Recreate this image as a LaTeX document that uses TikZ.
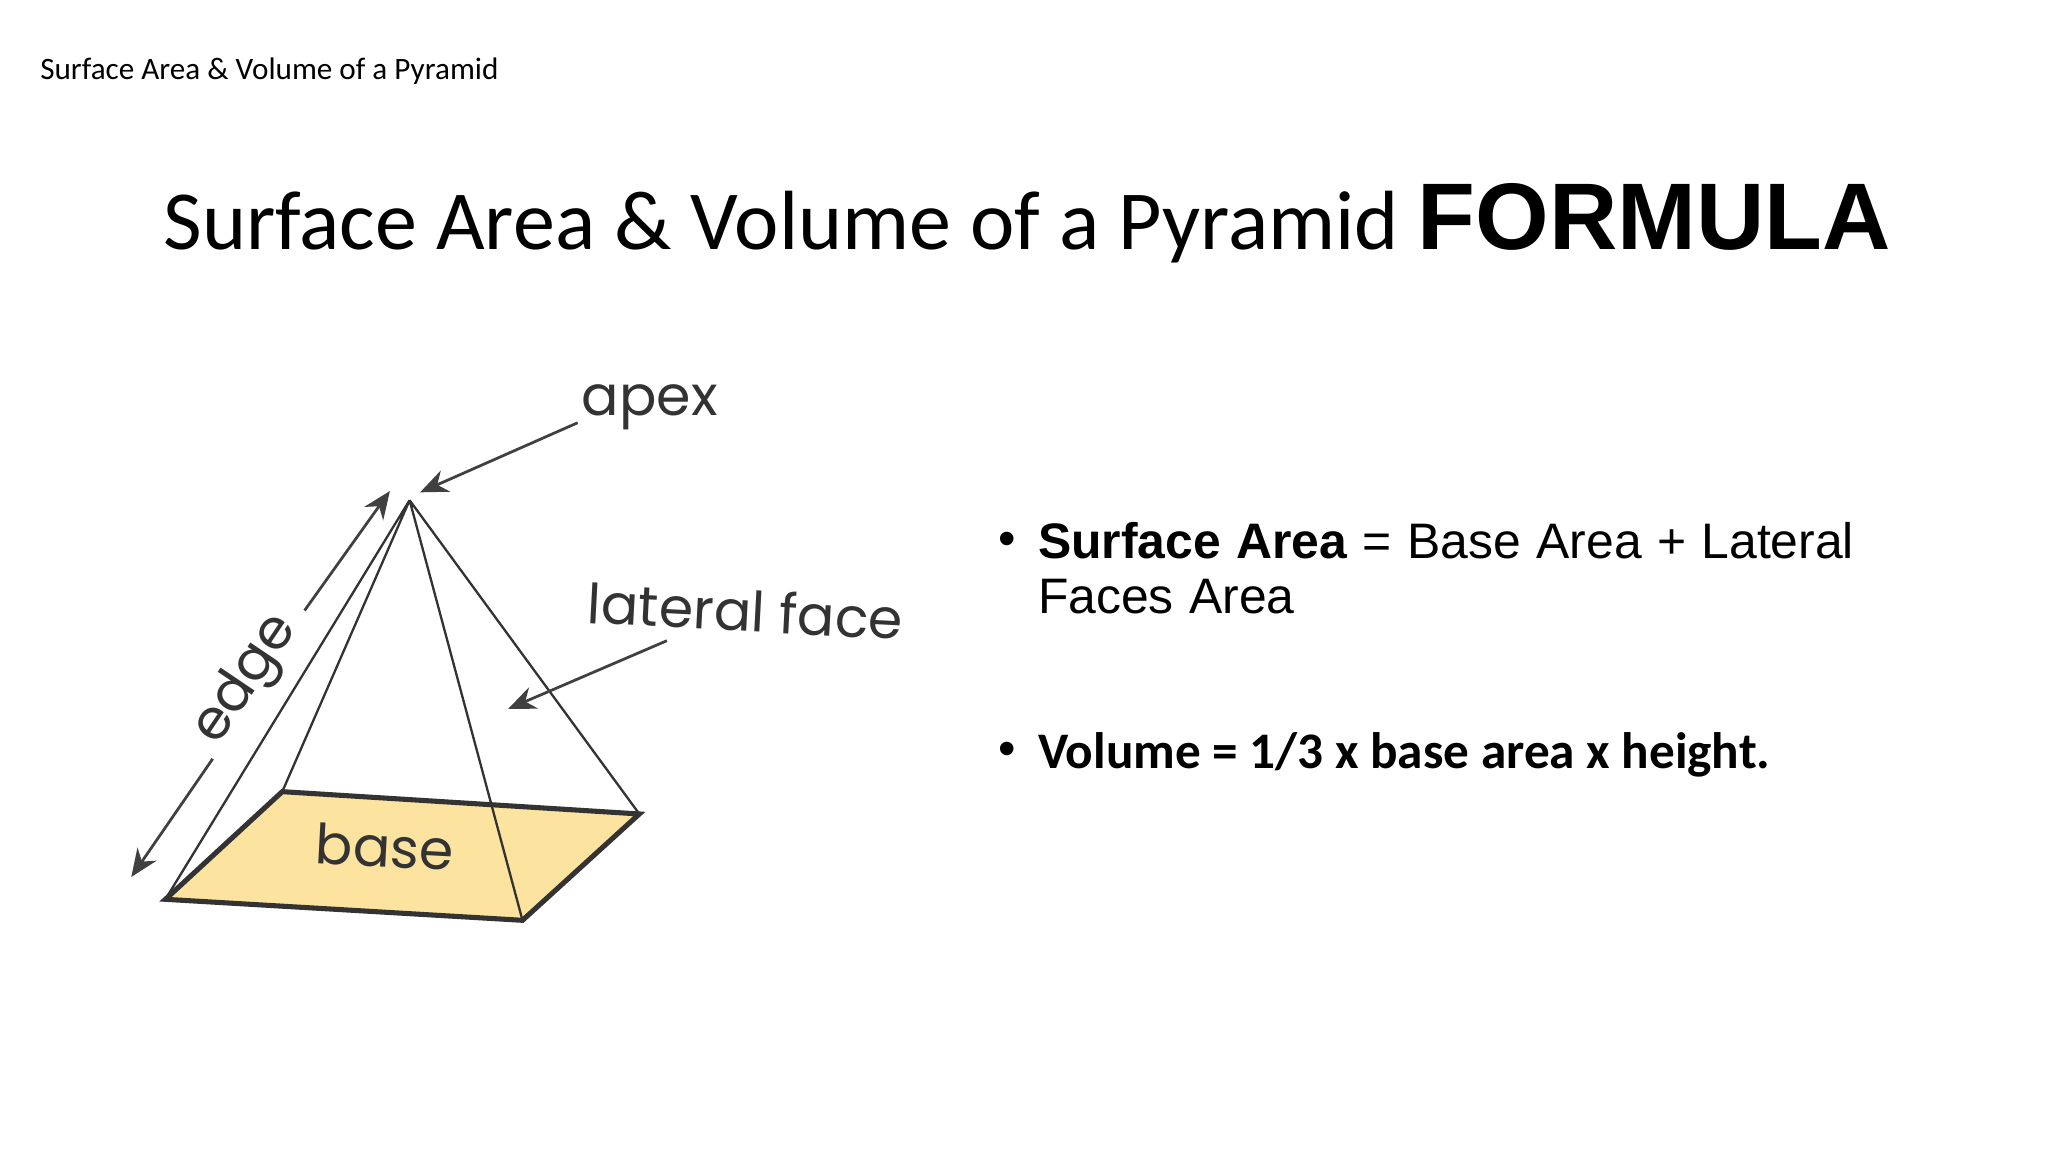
\documentclass[tikz,border=0pt]{standalone}
\usepackage{fontspec}
\usetikzlibrary{arrows.meta}
\setmainfont{Carlito}
\newfontfamily\arialf{Liberation Sans}
\newfontfamily\popf{Poppins}
\begin{document}
\begin{tikzpicture}[x=0.01cm,y=-0.01cm,
  lbl/.style={font=\popf\fontsize{12}{14}\selectfont, text=black!80, inner sep=0},
  arr/.style={-{Stealth[length=6pt,width=5pt]}, draw=black!75, line width=0.6pt},
  pedge/.style={draw=black!80, line width=0.5pt}]
\useasboundingbox (0,0) rectangle (1560,877.5);
\node[anchor=west,inner sep=0] (hdr) at (30,54) {\fontsize{6.75}{8}\selectfont Surface Area {\&} Volume of a Pyramid};
\node[anchor=west,inner sep=0] (title) at (124,170) {\fontsize{18.2}{22}\selectfont Surface Area \& Volume of a Pyramid {\arialf\bfseries\fontsize{20.5}{24}\selectfont FORMULA}};
% pyramid
\coordinate (A) at (312,381);
\coordinate (BL) at (215,603);
\coordinate (BR) at (487,620);
\coordinate (FR) at (398,701);
\coordinate (FL) at (126,685);
\fill[yellow!45!orange!35!white] (BL)--(BR)--(FR)--(FL)--cycle;
\draw[pedge, line width=1.1pt] (FL)--(BL)--(BR)--(FR)--cycle;
\draw[pedge] (FL)--(A)--(BL) (A)--(FR) (A)--(BR);
\node[lbl, rotate=-3] (base) at (293,645) {base};
\node[lbl] (apex) at (495,310) {apex};
\node[lbl, rotate=-3] (lat) at (568,465) {lateral face};
\node[lbl, rotate=56] (edge) at (188,518) {edge};
\coordinate (ap1) at (440,322); \coordinate (ap2) at (320,375);
\draw[arr] (ap1)--(ap2);
\coordinate (lf1) at (508,488); \coordinate (lf2) at (387,540);
\draw[arr] (lf1)--(lf2);
\coordinate (e1) at (232,465); \coordinate (e2) at (297,374);
\coordinate (e3) at (162,578); \coordinate (e4) at (100,668);
\draw[arr] (e1)--(e2);
\draw[arr] (e3)--(e4);
% bullets
\node[anchor=north west,inner sep=0,text width=7cm,align=left] (b1) at (790,397)
 {\arialf\fontsize{10.8}{13.5}\selectfont\textbf{Surface Area} = Base Area + Lateral\\Faces Area};
\node[inner sep=0] (d1) at (767,414) {\arialf\fontsize{10.8}{13}\selectfont •};
\node[anchor=west,inner sep=0] (b2) at (790,575)
 {\fontsize{11.1}{14}\selectfont\bfseries Volume = 1/3 x base area x height.};
\node[inner sep=0] (d2) at (767,574) {\arialf\fontsize{10.8}{13}\selectfont •};
\end{tikzpicture}
\end{document}
